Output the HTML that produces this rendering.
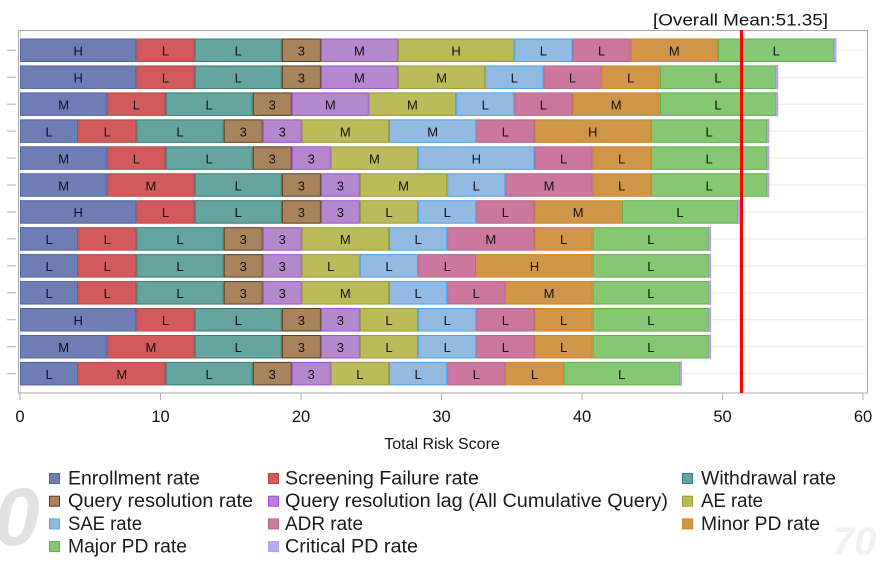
<!DOCTYPE html>
<html><head><meta charset="utf-8">
<style>
html,body{margin:0;padding:0;background:#fff;width:880px;height:564px;overflow:hidden;}
svg{display:block;overflow:hidden;font-family:"Liberation Sans","NanumGothic",sans-serif;}
.b rect{stroke-width:1}
.e{fill:#6e7db4;stroke:#5262a0}
.s{fill:#d35a5a;stroke:#b94646}
.w{fill:#66a59f;stroke:#2f7d72}
.qr{fill:#a8835c;stroke:#5c3f1f}
.ql{fill:#b587cc;stroke:#a349e0}
.ae{fill:#bbbb5c;stroke:#9c9c35}
.sa{fill:#93bae0;stroke:#4aa2ee}
.ad{fill:#cc789e;stroke:#b3648a}
.mi{fill:#cf9549;stroke:#d9821c}
.ma{fill:#86c774;stroke:#5db242}
.cr{fill:#b8aaf0;stroke:#b0a2f0}
.b text{font-size:13px;text-anchor:middle;fill:#111;}
.lg text{font-size:19px;fill:#1a1a1a;}
</style></head>
<body>
<svg width="880" height="564" viewBox="0 0 880 564" xmlns="http://www.w3.org/2000/svg">
<!-- watermarks -->
<text x="-6" y="545" font-size="82" font-weight="bold" font-style="italic" fill="#e2e2e2">0</text>
<text x="832" y="555" font-size="40" font-weight="bold" font-style="italic" fill="#f0f0f0">70</text>

<!-- gridlines -->
<g stroke="#e8e8e8" stroke-width="1">
<line x1="20" x2="866" y1="50.25" y2="50.25"/>
<line x1="20" x2="866" y1="77.2" y2="77.2"/>
<line x1="20" x2="866" y1="104.15" y2="104.15"/>
<line x1="20" x2="866" y1="131.1" y2="131.1"/>
<line x1="20" x2="866" y1="158.05" y2="158.05"/>
<line x1="20" x2="866" y1="185" y2="185"/>
<line x1="20" x2="866" y1="211.95" y2="211.95"/>
<line x1="20" x2="866" y1="238.9" y2="238.9"/>
<line x1="20" x2="866" y1="265.85" y2="265.85"/>
<line x1="20" x2="866" y1="292.8" y2="292.8"/>
<line x1="20" x2="866" y1="319.75" y2="319.75"/>
<line x1="20" x2="866" y1="346.7" y2="346.7"/>
<line x1="20" x2="866" y1="373.65" y2="373.65"/>
</g>
<!-- y ticks -->
<g stroke="#b0b0b0" stroke-width="1">
<line x1="7" x2="16" y1="50.25" y2="50.25"/>
<line x1="7" x2="16" y1="77.2" y2="77.2"/>
<line x1="7" x2="16" y1="104.15" y2="104.15"/>
<line x1="7" x2="16" y1="131.1" y2="131.1"/>
<line x1="7" x2="16" y1="158.05" y2="158.05"/>
<line x1="7" x2="16" y1="185" y2="185"/>
<line x1="7" x2="16" y1="211.95" y2="211.95"/>
<line x1="7" x2="16" y1="238.9" y2="238.9"/>
<line x1="7" x2="16" y1="265.85" y2="265.85"/>
<line x1="7" x2="16" y1="292.8" y2="292.8"/>
<line x1="7" x2="16" y1="319.75" y2="319.75"/>
<line x1="7" x2="16" y1="346.7" y2="346.7"/>
<line x1="7" x2="16" y1="373.65" y2="373.65"/>
</g>
<!-- frame -->
<rect x="18.5" y="30.5" width="849" height="362.5" fill="none" stroke="#a8a8a8" stroke-width="1"/>
<line x1="20.5" x2="20.5" y1="31" y2="392.5" stroke="#d8d8d8"/>
<!-- x ticks -->
<g stroke="#b0b0b0" stroke-width="1">
<line x1="20" x2="20" y1="393" y2="400"/>
<line x1="160.5" x2="160.5" y1="393" y2="400"/>
<line x1="301" x2="301" y1="393" y2="400"/>
<line x1="441.5" x2="441.5" y1="393" y2="400"/>
<line x1="582" x2="582" y1="393" y2="400"/>
<line x1="722.5" x2="722.5" y1="393" y2="400"/>
<line x1="863" x2="863" y1="393" y2="400"/>
</g>
<g font-size="16.5" fill="#111" text-anchor="middle">
<text x="20" y="422">0</text>
<text x="160.5" y="422">10</text>
<text x="301" y="422">20</text>
<text x="441.5" y="422">30</text>
<text x="582" y="422">40</text>
<text x="722.5" y="422">50</text>
<text x="863" y="422">60</text>
<text x="442" y="449" font-size="16">Total Risk Score</text>
</g>

<!-- bars -->
<g class="b">
<!-- row 0 -->
<g transform="translate(0,38.5)">
<rect class="e" x="20.5" y="0.5" width="115.4" height="22.5"/>
<rect class="s" x="136.9" y="0.5" width="57.2" height="22.5"/>
<rect class="w" x="195.1" y="0.5" width="86.3" height="22.5"/>
<rect class="qr" x="282.4" y="0.5" width="38" height="22.5"/>
<rect class="ql" x="321.4" y="0.5" width="76" height="22.5"/>
<rect class="ae" x="398.4" y="0.5" width="115.4" height="22.5"/>
<rect class="sa" x="514.8" y="0.5" width="57.2" height="22.5"/>
<rect class="ad" x="573" y="0.5" width="57.2" height="22.5"/>
<rect class="mi" x="631.2" y="0.5" width="86.3" height="22.5"/>
<rect class="ma" x="718.5" y="0.5" width="115.4" height="22.5"/>
<rect class="cr" x="834.4" y="0" width="1.5" height="23.5"/>
<text x="78.2" y="17">H</text><text x="165.5" y="17">L</text><text x="238.25" y="17">L</text><text x="301.4" y="17">3</text><text x="359.4" y="17">M</text><text x="456.1" y="17">H</text><text x="543.4" y="17">L</text><text x="601.6" y="17">L</text><text x="674.35" y="17">M</text><text x="776.2" y="17">L</text>
</g>
<!-- row 1 -->
<g transform="translate(0,65.45)">
<rect class="e" x="20.5" y="0.5" width="115.4" height="22.5"/>
<rect class="s" x="136.9" y="0.5" width="57.2" height="22.5"/>
<rect class="w" x="195.1" y="0.5" width="86.3" height="22.5"/>
<rect class="qr" x="282.4" y="0.5" width="38" height="22.5"/>
<rect class="ql" x="321.4" y="0.5" width="76" height="22.5"/>
<rect class="ae" x="398.4" y="0.5" width="86.3" height="22.5"/>
<rect class="sa" x="485.7" y="0.5" width="57.2" height="22.5"/>
<rect class="ad" x="543.9" y="0.5" width="57.2" height="22.5"/>
<rect class="mi" x="602.1" y="0.5" width="57.2" height="22.5"/>
<rect class="ma" x="660.3" y="0.5" width="115.4" height="22.5"/>
<rect class="cr" x="776.2" y="0" width="1.5" height="23.5"/>
<text x="78.2" y="17">H</text><text x="165.5" y="17">L</text><text x="238.25" y="17">L</text><text x="301.4" y="17">3</text><text x="359.4" y="17">M</text><text x="441.55" y="17">M</text><text x="514.3" y="17">L</text><text x="572.5" y="17">L</text><text x="630.7" y="17">L</text><text x="718" y="17">L</text>
</g>
<!-- row 2 -->
<g transform="translate(0,92.4)">
<rect class="e" x="20.5" y="0.5" width="86.3" height="22.5"/>
<rect class="s" x="107.8" y="0.5" width="57.2" height="22.5"/>
<rect class="w" x="166" y="0.5" width="86.3" height="22.5"/>
<rect class="qr" x="253.3" y="0.5" width="38" height="22.5"/>
<rect class="ql" x="292.3" y="0.5" width="76" height="22.5"/>
<rect class="ae" x="369.3" y="0.5" width="86.3" height="22.5"/>
<rect class="sa" x="456.6" y="0.5" width="57.2" height="22.5"/>
<rect class="ad" x="514.8" y="0.5" width="57.2" height="22.5"/>
<rect class="mi" x="573" y="0.5" width="86.3" height="22.5"/>
<rect class="ma" x="660.3" y="0.5" width="115.4" height="22.5"/>
<rect class="cr" x="776.2" y="0" width="1.5" height="23.5"/>
<text x="63.65" y="17">M</text><text x="136.4" y="17">L</text><text x="209.15" y="17">L</text><text x="272.3" y="17">3</text><text x="330.3" y="17">M</text><text x="412.45" y="17">M</text><text x="485.2" y="17">L</text><text x="543.4" y="17">L</text><text x="616.15" y="17">M</text><text x="718" y="17">L</text>
</g>
<!-- row 3 -->
<g transform="translate(0,119.35)">
<rect class="e" x="20.5" y="0.5" width="57.2" height="22.5"/>
<rect class="s" x="78.7" y="0.5" width="57.2" height="22.5"/>
<rect class="w" x="136.9" y="0.5" width="86.3" height="22.5"/>
<rect class="qr" x="224.2" y="0.5" width="38" height="22.5"/>
<rect class="ql" x="263.2" y="0.5" width="38" height="22.5"/>
<rect class="ae" x="302.2" y="0.5" width="86.3" height="22.5"/>
<rect class="sa" x="389.5" y="0.5" width="86.3" height="22.5"/>
<rect class="ad" x="476.8" y="0.5" width="57.2" height="22.5"/>
<rect class="mi" x="535" y="0.5" width="115.4" height="22.5"/>
<rect class="ma" x="651.4" y="0.5" width="115.4" height="22.5"/>
<rect class="cr" x="767.3" y="0" width="1.5" height="23.5"/>
<text x="49.1" y="17">L</text><text x="107.3" y="17">L</text><text x="180.05" y="17">L</text><text x="243.2" y="17">3</text><text x="282.2" y="17">3</text><text x="345.35" y="17">M</text><text x="432.65" y="17">M</text><text x="505.4" y="17">L</text><text x="592.7" y="17">H</text><text x="709.1" y="17">L</text>
</g>
<!-- row 4 -->
<g transform="translate(0,146.3)">
<rect class="e" x="20.5" y="0.5" width="86.3" height="22.5"/>
<rect class="s" x="107.8" y="0.5" width="57.2" height="22.5"/>
<rect class="w" x="166" y="0.5" width="86.3" height="22.5"/>
<rect class="qr" x="253.3" y="0.5" width="38" height="22.5"/>
<rect class="ql" x="292.3" y="0.5" width="38" height="22.5"/>
<rect class="ae" x="331.3" y="0.5" width="86.3" height="22.5"/>
<rect class="sa" x="418.6" y="0.5" width="115.4" height="22.5"/>
<rect class="ad" x="535" y="0.5" width="57.2" height="22.5"/>
<rect class="mi" x="593.2" y="0.5" width="57.2" height="22.5"/>
<rect class="ma" x="651.4" y="0.5" width="115.4" height="22.5"/>
<rect class="cr" x="767.3" y="0" width="1.5" height="23.5"/>
<text x="63.65" y="17">M</text><text x="136.4" y="17">L</text><text x="209.15" y="17">L</text><text x="272.3" y="17">3</text><text x="311.3" y="17">3</text><text x="374.45" y="17">M</text><text x="476.3" y="17">H</text><text x="563.6" y="17">L</text><text x="621.8" y="17">L</text><text x="709.1" y="17">L</text>
</g>
<!-- row 5 -->
<g transform="translate(0,173.25)">
<rect class="e" x="20.5" y="0.5" width="86.3" height="22.5"/>
<rect class="s" x="107.8" y="0.5" width="86.3" height="22.5"/>
<rect class="w" x="195.1" y="0.5" width="86.3" height="22.5"/>
<rect class="qr" x="282.4" y="0.5" width="38" height="22.5"/>
<rect class="ql" x="321.4" y="0.5" width="38" height="22.5"/>
<rect class="ae" x="360.4" y="0.5" width="86.3" height="22.5"/>
<rect class="sa" x="447.7" y="0.5" width="57.2" height="22.5"/>
<rect class="ad" x="505.9" y="0.5" width="86.3" height="22.5"/>
<rect class="mi" x="593.2" y="0.5" width="57.2" height="22.5"/>
<rect class="ma" x="651.4" y="0.5" width="115.4" height="22.5"/>
<rect class="cr" x="767.3" y="0" width="1.5" height="23.5"/>
<text x="63.65" y="17">M</text><text x="150.95" y="17">M</text><text x="238.25" y="17">L</text><text x="301.4" y="17">3</text><text x="340.4" y="17">3</text><text x="403.55" y="17">M</text><text x="476.3" y="17">L</text><text x="549.05" y="17">M</text><text x="621.8" y="17">L</text><text x="709.1" y="17">L</text>
</g>
<!-- row 6 -->
<g transform="translate(0,200.2)">
<rect class="e" x="20.5" y="0.5" width="115.4" height="22.5"/>
<rect class="s" x="136.9" y="0.5" width="57.2" height="22.5"/>
<rect class="w" x="195.1" y="0.5" width="86.3" height="22.5"/>
<rect class="qr" x="282.4" y="0.5" width="38" height="22.5"/>
<rect class="ql" x="321.4" y="0.5" width="38" height="22.5"/>
<rect class="ae" x="360.4" y="0.5" width="57.2" height="22.5"/>
<rect class="sa" x="418.6" y="0.5" width="57.2" height="22.5"/>
<rect class="ad" x="476.8" y="0.5" width="57.2" height="22.5"/>
<rect class="mi" x="535" y="0.5" width="86.3" height="22.5"/>
<rect class="ma" x="622.3" y="0.5" width="115.4" height="22.5"/>
<rect class="cr" x="738.2" y="0" width="1.5" height="23.5"/>
<text x="78.2" y="17">H</text><text x="165.5" y="17">L</text><text x="238.25" y="17">L</text><text x="301.4" y="17">3</text><text x="340.4" y="17">3</text><text x="389" y="17">L</text><text x="447.2" y="17">L</text><text x="505.4" y="17">L</text><text x="578.15" y="17">M</text><text x="680" y="17">L</text>
</g>
<!-- row 7 -->
<g transform="translate(0,227.15)">
<rect class="e" x="20.5" y="0.5" width="57.2" height="22.5"/>
<rect class="s" x="78.7" y="0.5" width="57.2" height="22.5"/>
<rect class="w" x="136.9" y="0.5" width="86.3" height="22.5"/>
<rect class="qr" x="224.2" y="0.5" width="38" height="22.5"/>
<rect class="ql" x="263.2" y="0.5" width="38" height="22.5"/>
<rect class="ae" x="302.2" y="0.5" width="86.3" height="22.5"/>
<rect class="sa" x="389.5" y="0.5" width="57.2" height="22.5"/>
<rect class="ad" x="447.7" y="0.5" width="86.3" height="22.5"/>
<rect class="mi" x="535" y="0.5" width="57.2" height="22.5"/>
<rect class="ma" x="593.2" y="0.5" width="115.4" height="22.5"/>
<rect class="cr" x="709.1" y="0" width="1.5" height="23.5"/>
<text x="49.1" y="17">L</text><text x="107.3" y="17">L</text><text x="180.05" y="17">L</text><text x="243.2" y="17">3</text><text x="282.2" y="17">3</text><text x="345.35" y="17">M</text><text x="418.1" y="17">L</text><text x="490.85" y="17">M</text><text x="563.6" y="17">L</text><text x="650.9" y="17">L</text>
</g>
<!-- row 8 -->
<g transform="translate(0,254.1)">
<rect class="e" x="20.5" y="0.5" width="57.2" height="22.5"/>
<rect class="s" x="78.7" y="0.5" width="57.2" height="22.5"/>
<rect class="w" x="136.9" y="0.5" width="86.3" height="22.5"/>
<rect class="qr" x="224.2" y="0.5" width="38" height="22.5"/>
<rect class="ql" x="263.2" y="0.5" width="38" height="22.5"/>
<rect class="ae" x="302.2" y="0.5" width="57.2" height="22.5"/>
<rect class="sa" x="360.4" y="0.5" width="57.2" height="22.5"/>
<rect class="ad" x="418.6" y="0.5" width="57.2" height="22.5"/>
<rect class="mi" x="476.8" y="0.5" width="115.4" height="22.5"/>
<rect class="ma" x="593.2" y="0.5" width="115.4" height="22.5"/>
<rect class="cr" x="709.1" y="0" width="1.5" height="23.5"/>
<text x="49.1" y="17">L</text><text x="107.3" y="17">L</text><text x="180.05" y="17">L</text><text x="243.2" y="17">3</text><text x="282.2" y="17">3</text><text x="330.8" y="17">L</text><text x="389" y="17">L</text><text x="447.2" y="17">L</text><text x="534.5" y="17">H</text><text x="650.9" y="17">L</text>
</g>
<!-- row 9 -->
<g transform="translate(0,281.05)">
<rect class="e" x="20.5" y="0.5" width="57.2" height="22.5"/>
<rect class="s" x="78.7" y="0.5" width="57.2" height="22.5"/>
<rect class="w" x="136.9" y="0.5" width="86.3" height="22.5"/>
<rect class="qr" x="224.2" y="0.5" width="38" height="22.5"/>
<rect class="ql" x="263.2" y="0.5" width="38" height="22.5"/>
<rect class="ae" x="302.2" y="0.5" width="86.3" height="22.5"/>
<rect class="sa" x="389.5" y="0.5" width="57.2" height="22.5"/>
<rect class="ad" x="447.7" y="0.5" width="57.2" height="22.5"/>
<rect class="mi" x="505.9" y="0.5" width="86.3" height="22.5"/>
<rect class="ma" x="593.2" y="0.5" width="115.4" height="22.5"/>
<rect class="cr" x="709.1" y="0" width="1.5" height="23.5"/>
<text x="49.1" y="17">L</text><text x="107.3" y="17">L</text><text x="180.05" y="17">L</text><text x="243.2" y="17">3</text><text x="282.2" y="17">3</text><text x="345.35" y="17">M</text><text x="418.1" y="17">L</text><text x="476.3" y="17">L</text><text x="549.05" y="17">M</text><text x="650.9" y="17">L</text>
</g>
<!-- row 10 -->
<g transform="translate(0,308)">
<rect class="e" x="20.5" y="0.5" width="115.4" height="22.5"/>
<rect class="s" x="136.9" y="0.5" width="57.2" height="22.5"/>
<rect class="w" x="195.1" y="0.5" width="86.3" height="22.5"/>
<rect class="qr" x="282.4" y="0.5" width="38" height="22.5"/>
<rect class="ql" x="321.4" y="0.5" width="38" height="22.5"/>
<rect class="ae" x="360.4" y="0.5" width="57.2" height="22.5"/>
<rect class="sa" x="418.6" y="0.5" width="57.2" height="22.5"/>
<rect class="ad" x="476.8" y="0.5" width="57.2" height="22.5"/>
<rect class="mi" x="535" y="0.5" width="57.2" height="22.5"/>
<rect class="ma" x="593.2" y="0.5" width="115.4" height="22.5"/>
<rect class="cr" x="709.1" y="0" width="1.5" height="23.5"/>
<text x="78.2" y="17">H</text><text x="165.5" y="17">L</text><text x="238.25" y="17">L</text><text x="301.4" y="17">3</text><text x="340.4" y="17">3</text><text x="389" y="17">L</text><text x="447.2" y="17">L</text><text x="505.4" y="17">L</text><text x="563.6" y="17">L</text><text x="650.9" y="17">L</text>
</g>
<!-- row 11 -->
<g transform="translate(0,334.95)">
<rect class="e" x="20.5" y="0.5" width="86.3" height="22.5"/>
<rect class="s" x="107.8" y="0.5" width="86.3" height="22.5"/>
<rect class="w" x="195.1" y="0.5" width="86.3" height="22.5"/>
<rect class="qr" x="282.4" y="0.5" width="38" height="22.5"/>
<rect class="ql" x="321.4" y="0.5" width="38" height="22.5"/>
<rect class="ae" x="360.4" y="0.5" width="57.2" height="22.5"/>
<rect class="sa" x="418.6" y="0.5" width="57.2" height="22.5"/>
<rect class="ad" x="476.8" y="0.5" width="57.2" height="22.5"/>
<rect class="mi" x="535" y="0.5" width="57.2" height="22.5"/>
<rect class="ma" x="593.2" y="0.5" width="115.4" height="22.5"/>
<rect class="cr" x="709.1" y="0" width="1.5" height="23.5"/>
<text x="63.65" y="17">M</text><text x="150.95" y="17">M</text><text x="238.25" y="17">L</text><text x="301.4" y="17">3</text><text x="340.4" y="17">3</text><text x="389" y="17">L</text><text x="447.2" y="17">L</text><text x="505.4" y="17">L</text><text x="563.6" y="17">L</text><text x="650.9" y="17">L</text>
</g>
<!-- row 12 -->
<g transform="translate(0,361.9)">
<rect class="e" x="20.5" y="0.5" width="57.2" height="22.5"/>
<rect class="s" x="78.7" y="0.5" width="86.3" height="22.5"/>
<rect class="w" x="166" y="0.5" width="86.3" height="22.5"/>
<rect class="qr" x="253.3" y="0.5" width="38" height="22.5"/>
<rect class="ql" x="292.3" y="0.5" width="38" height="22.5"/>
<rect class="ae" x="331.3" y="0.5" width="57.2" height="22.5"/>
<rect class="sa" x="389.5" y="0.5" width="57.2" height="22.5"/>
<rect class="ad" x="447.7" y="0.5" width="57.2" height="22.5"/>
<rect class="mi" x="505.9" y="0.5" width="57.2" height="22.5"/>
<rect class="ma" x="564.1" y="0.5" width="115.4" height="22.5"/>
<rect class="cr" x="680" y="0" width="1.5" height="23.5"/>
<text x="49.1" y="17">L</text><text x="121.85" y="17">M</text><text x="209.15" y="17">L</text><text x="272.3" y="17">3</text><text x="311.3" y="17">3</text><text x="359.9" y="17">L</text><text x="418.1" y="17">L</text><text x="476.3" y="17">L</text><text x="534.5" y="17">L</text><text x="621.8" y="17">L</text>
</g>
</g>

<!-- mean line -->
<line x1="741.5" x2="741.5" y1="30" y2="393" stroke="#ff0000" stroke-width="3"/>
<text x="653" y="25.7" font-size="17" fill="#111" textLength="175" lengthAdjust="spacingAndGlyphs">[Overall Mean:51.35]</text>

<!-- legend -->
<g class="lg">
<rect class="e" x="49.5" y="473.5" width="10" height="10"/>
<text x="68" y="484.5" textLength="132" lengthAdjust="spacingAndGlyphs">Enrollment rate</text>
<rect class="s" x="268.5" y="473.5" width="10" height="10"/>
<text x="285" y="484.5" textLength="194" lengthAdjust="spacingAndGlyphs">Screening Failure rate</text>
<rect class="w" x="682.5" y="473.5" width="10" height="10"/>
<text x="701" y="484.5" textLength="135" lengthAdjust="spacingAndGlyphs">Withdrawal rate</text>

<rect class="qr" x="49.5" y="496.2" width="10" height="10"/>
<text x="68" y="507.2" textLength="185" lengthAdjust="spacingAndGlyphs">Query resolution rate</text>
<rect class="ql" x="268.5" y="496.2" width="10" height="10"/>
<text x="285" y="507.2" textLength="383" lengthAdjust="spacingAndGlyphs">Query resolution lag (All Cumulative Query)</text>
<rect class="ae" x="682.5" y="496.2" width="10" height="10"/>
<text x="701" y="507.2" textLength="62" lengthAdjust="spacingAndGlyphs">AE rate</text>

<rect class="sa" x="49.5" y="518.9" width="10" height="10"/>
<text x="68" y="529.9" textLength="74" lengthAdjust="spacingAndGlyphs">SAE rate</text>
<rect class="ad" x="268.5" y="518.9" width="10" height="10"/>
<text x="285" y="529.9" textLength="78" lengthAdjust="spacingAndGlyphs">ADR rate</text>
<rect class="mi" x="682.5" y="518.9" width="10" height="10"/>
<text x="701" y="529.9" textLength="119" lengthAdjust="spacingAndGlyphs">Minor PD rate</text>

<rect class="ma" x="49.5" y="541.6" width="10" height="10"/>
<text x="68" y="552.6" textLength="119" lengthAdjust="spacingAndGlyphs">Major PD rate</text>
<rect class="cr" x="268.5" y="541.6" width="10" height="10"/>
<text x="285" y="552.6" textLength="133" lengthAdjust="spacingAndGlyphs">Critical PD rate</text>
</g>
</svg>
</body></html>
